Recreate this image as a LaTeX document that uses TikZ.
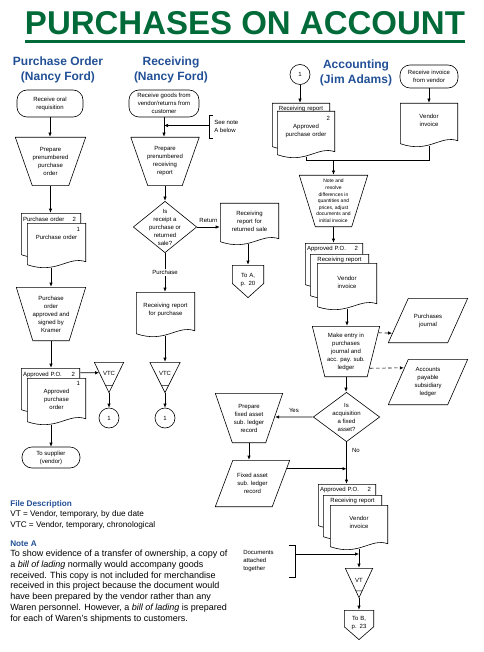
\documentclass[tikz,border=0pt]{standalone}
\usepackage{fontspec}
\setmainfont{Liberation Sans}
\usetikzlibrary{arrows.meta,calc}

\definecolor{titlegreen}{RGB}{0,106,56}
\definecolor{headblue}{RGB}{34,80,150}

\newcommand\nodefont{\fontsize{6}{8}\selectfont}
\newcommand\smallfont{\fontsize{5}{6.6}\selectfont}
\newcommand\ppb{path picture bounding box}
% corners of a node, set in a little for the clip
\newcommand\ppcorners{\path ([xshift=.3pt,yshift=-.3pt]\ppb.north west) coordinate (nw)
  ([xshift=-.3pt,yshift=-.3pt]\ppb.north east) coordinate (ne)
  ([xshift=.3pt,yshift=.3pt]\ppb.south west) coordinate (sw)
  ([xshift=-.3pt,yshift=.3pt]\ppb.south east) coordinate (se)
  ([yshift=.4pt]\ppb.south) coordinate (ap);}
\newcommand\gap[1]{\rule{#1pt}{0pt}}

\tikzset{
  >={Latex[length=4pt,width=3.4pt]},
  every node/.style={font=\nodefont},
  flow/.style={inner sep=0pt, align=center},
  term/.style 2 args={flow, draw, rounded corners=10pt, minimum width=#1pt, minimum height=#2pt},
  conn/.style={flow, draw, circle, minimum size=20pt},
  trap/.style n args={3}{flow, minimum width=#1pt, minimum height=#2pt,
    path picture={\ppcorners \draw (nw) -- (ne) -- ([xshift=-#3pt]se) -- ([xshift=#3pt]sw) -- cycle;}},
  dia/.style 2 args={flow, minimum width=#1pt, minimum height=#2pt,
    path picture={\draw ([yshift=-.4pt]\ppb.north) -- ([xshift=-.4pt]\ppb.east) -- ([yshift=.4pt]\ppb.south) -- ([xshift=.4pt]\ppb.west) -- cycle;}},
  para/.style n args={3}{flow, minimum width=#1pt, minimum height=#2pt,
    path picture={\ppcorners \draw ([xshift=#3pt]nw) -- (ne) -- ([xshift=-#3pt]se) -- (sw) -- cycle;}},
  doc/.style n args={3}{flow, text width=#1pt, text height=#2pt, text depth=#3pt,
    path picture={\ppcorners \filldraw[fill=white] (nw) -- (ne) -- ([yshift=6pt]se)
      .. controls ($(sw)!.7!(se)+(0pt,12pt)$) and ($(sw)!.5!(se)+(0pt,-7pt)$) .. ([yshift=3pt]sw) -- cycle;}},
  ftri/.style n args={3}{flow, text width=#1pt, text height=#2pt, text depth=#3pt,
    path picture={\ppcorners \draw (nw) -- (ne) -- (ap) -- cycle ($(nw)!.77!(ap)$) -- ($(ne)!.77!(ap)$);}},
  offp/.style n args={3}{flow, text width=#1pt, text height=#2pt, text depth=#3pt,
    path picture={\ppcorners \draw (nw) -- (ne) -- ($(ne)!.56!(se)$) -- (ap) -- ($(nw)!.56!(sw)$) -- cycle;}},
}
\tikzstyle{docout}=[->, shorten <=-1.3pt]
\tikzstyle{dasharrow}=[->, dash pattern=on 3.5pt off 2.5pt]
\tikzstyle{heading}=[font=\fontsize{12}{15}\selectfont\bfseries, text=headblue, align=center]
\tikzstyle{bodytext}=[anchor=north west, align=left, inner sep=0pt, font=\fontsize{8.2}{10.6}\selectfont]

\begin{document}
\begin{tikzpicture}[x=1pt, y=-1pt, line width=0.6pt]
  \useasboundingbox (0,0) rectangle (483,652);

  \node[anchor=base, text=titlegreen, font=\fontsize{33}{33}\selectfont\bfseries] (title) at (245,35) {PURCHASES ON ACCOUNT};
  \draw[titlegreen, line width=2.4pt] (25,41.5) -- (465,41.5);

  \node[heading] (hdPO) at (58,70) {Purchase Order\\(Nancy Ford)};
  \node[heading] (hdRec) at (171,70) {Receiving\\(Nancy Ford)};
  \node[heading] (hdAcc) at (356,73) {Accounting\\(Jim Adams)};

  % purchase order
  \node[term={66}{27}] (oral) at (50,103.5) {Receive oral\\requisition};
  \node[trap={71}{49}{17}] (prepPO) at (50.5,161.5) {Prepare\\prenumbered\\purchase\\order};
  \node[doc={60}{8}{37}] (po2) at (51,235.5) {\gap{2}Purchase order\hfill 2\gap{5}};
  \node[doc={59}{8}{37}] (po1) at (56.5,245.5) {\hfill 1\gap{6}\\Purchase order};
  \node[trap={70}{54}{16.5}] (kramer) at (51,314) {Purchase\\order\\approved and\\signed by\\Kramer};
  \node[doc={59}{8}{37}] (apo2) at (50.5,390.5) {\gap{2}Approved P.O.\hfill 2\gap{5}};
  \node[doc={59}{7}{40}] (apo1) at (56.5,401.5) {\hfill 1\gap{6}\\Approved\\purchase\\order};
  \node[ftri={30}{13}{18}] (vtc1) at (109,377.5) {VTC};
  \node[conn] (c1a) at (109,418) {1};
  \node[term={58}{21}] (supp) at (51,457.5) {To supplier\\(vendor)};

  \draw[->] (oral.south) -- (oral.south |- prepPO.north);
  \draw[->] (prepPO.south) -- (prepPO.south |- po2.north);
  \draw[->] (po1.south -| kramer.north) -- (kramer.north);
  \draw[->] (kramer.south) -- (kramer.south |- apo2.north);
  \draw[->] ($(apo2.north east)+(0,5)$) -- ($(vtc1.north west)!.35!(vtc1.south)$);
  \draw[->] (vtc1.south) -- (c1a.north);
  \draw[->] (apo1.south -| supp.north) -- (supp.north);

  % receiving
  \node[term={70}{27}] (goods) at (164,103.5) {Receive goods from\\vendor/returns from\\customer};
  \node[trap={69}{49}{17}] (prepRR) at (165,161.5) {Prepare\\prenumbered\\receiving\\report};
  \node[anchor=west, align=left, inner sep=0pt] (seeNote) at (214,126.5) {See note\\A below};
  \node[dia={64}{52}] (retq) at (165,227) {Is\\receipt a\\purchase or\\returned\\sale?};
  \node[doc={59}{12.5}{29.5}] (rrRet) at (249.5,224) {Receiving\\report for\\returned sale};
  \node[offp={32}{12}{21}] (toA) at (248,281.5) {To A,\\p. 20};
  \node[doc={59}{15.5}{29.5}] (rrPur) at (165.5,314.5) {Receiving report\\for purchase};
  \node[ftri={31}{13}{18}] (vtc2) at (165,377.5) {VTC};
  \node[conn] (c1b) at (165,418) {1};

  \draw[->] (goods.south) -- (goods.south |- prepRR.north);
  \draw (213,115) -- (209,115) -- (209,138) -- (213,138);
  \coordinate (brA) at (209,125.5);
  \draw[->] (brA) -- (brA -| goods.south);
  \draw[->] (prepRR.south) -- (prepRR.south |- retq.north);
  \draw[->] (retq.east) -- (retq.east -| rrRet.west) node[midway, above=1pt] {Return};
  \draw[docout] (rrRet.south -| toA.north) -- (toA.north);
  \draw[->] (retq.south) -- (retq.south |- rrPur.north) node[midway, fill=white, inner sep=1pt] {Purchase};
  \draw[docout] (rrPur.south -| vtc2.north) -- (vtc2.north);
  \draw[->] (vtc2.south) -- (c1b.north);

  % accounting
  \node[conn] (c1c) at (300,74.5) {1};
  \node[doc={58}{7.5}{39.5}] (rrA) at (301,126.5) {Receiving report};
  \node[doc={58}{9.5}{37.5}] (apoA) at (306,134.5) {\hfill 2\gap{5}\\[.5pt]Approved\\purchase order};
  \node[term={58}{23}] (rinv) at (429,76.5) {Receive invoice\\from vendor};
  \node[doc={58}{15.5}{28.5}] (vinv1) at (429,125) {Vendor\\invoice};
  \node[trap={69}{52}{16}, font=\smallfont] (noteRes) at (333.5,201) {Note and\\resolve\\differences in\\quantities and\\prices, adjust\\documents and\\initial invoice};
  \node[doc={58}{7}{38}] (apoB) at (334,265.5) {\gap{2}Approved P.O.\hfill 2\gap{5}};
  \node[doc={59}{7.5}{37.5}] (rrB) at (339.5,276.5) {Receiving report};
  \node[doc={60}{17}{30}] (vinvB) at (347,286.5) {Vendor\\invoice};
  \node[trap={68}{51}{12.5}] (mkEntry) at (346,351.5) {Make entry in\\purchases\\journal and\\acc. pay. sub.\\ledger};
  \node[para={80}{45}{20}] (pj) at (428,320.5) {Purchases\\journal};
  \node[para={80}{46}{20}] (apl) at (428,382) {Accounts\\payable\\subsidiary\\ledger};
  \node[dia={67}{50}] (fq) at (346.5,417) {Is\\acquisition\\a fixed\\asset?};
  \node[trap={68}{50}{17}] (fapre) at (249,418) {Prepare\\fixed asset\\sub. ledger\\record};
  \node[para={75}{47}{17.5}] (fal) at (252.5,483.5) {Fixed asset\\sub. ledger\\record};
  \node[doc={58}{7}{38}] (apoC) at (347,506.5) {\gap{2}Approved P.O.\hfill 2\gap{5}};
  \node[doc={59}{7.5}{37.5}] (rrC) at (352.5,517.5) {Receiving report};
  \node[doc={58}{15}{30}] (vinvC) at (359,527.5) {Vendor\\invoice};
  \node[anchor=west, align=left, inner sep=0pt] (docAtt) at (243,561) {Documents\\attached\\together};
  \node[ftri={28}{14}{16}] (vt) at (359,583) {VT};
  \node[offp={30}{10}{20}] (toB) at (359,625) {To B,\\p. 23};

  \draw[->] (c1c.south) -- (c1c.south |- rrA.north);
  \draw[->] (rinv.south) -- (rinv.south |- vinv1.north);
  \coordinate (jn) at (333.5,160);
  \draw[shorten <=-1.3pt, shorten >=-1.3pt] (apoA.south) -- (apoA.south |- jn) -- (jn -| vinv1.south) -- (vinv1.south);
  \draw[->] (jn) -- (noteRes.north);
  \draw[->] (noteRes.south) -- (noteRes.south |- apoB.north);
  \draw[docout] (vinvB.south) -- (vinvB.south |- mkEntry.north);
  \draw[dasharrow] ($(mkEntry.north east)!.137!(mkEntry.south east)+(-1.7,0)$) -- ($(pj.south west)!.222!(pj.north west)+(4.44,0)$);
  \draw[dasharrow] ($(mkEntry.north east)!.824!(mkEntry.south east)+(-10.3,0)$) -- ($(apl.south west)!.804!(apl.north west)+(16.1,0)$);
  \draw[->] (mkEntry.south) -- (mkEntry.south |- fq.north);
  \draw[->] (fq.west) -- ($(fapre.north east)!.48!(fapre.south east)+(-8.16,0)$) node[midway, above=1pt] {Yes};
  \draw[->] (fapre.south) -- (fapre.south |- fal.north);
  \draw[->] (fq.south) -- (fq.south |- apoC.north) node[pos=.2, right=2pt] {No};
  \coordinate (falR) at ($(fal.north east)!.19!(fal.south east)+(-3.35,0)$);
  \draw[->] (falR) -- (falR -| fq.south);
  \draw[docout] (vinvC.south) -- (vt.north);
  \draw[->] (vt.south) -- (toB.north);
  \draw (289,545) -- (295,545) -- (295,577) -- (289,577);
  \coordinate (brB) at (295,554);
  \draw[->] (brB) -- (brB -| vt.north);

  % notes
  \node[bodytext, font=\fontsize{8.2}{10.6}\selectfont\bfseries, text=headblue] (fileHd) at (10,500) {File Description};
  \node[bodytext] (fileTxt) at (10,510.5) {VT = Vendor, temporary, by due date\\VTC = Vendor, temporary, chronological};
  \node[bodytext, font=\fontsize{8.2}{10.6}\selectfont\bfseries, text=headblue] (noteHd) at (10,541) {Note A};
  \node[bodytext, font=\fontsize{9}{10.7}\selectfont] (noteTxt) at (10,550) {To show evidence of a transfer of ownership, a copy of\\a \emph{bill of lading} normally would accompany goods\\received. This copy is not included for merchandise\\received in this project because the document would\\have been prepared by the vendor rather than any\\Waren personnel. However, a \emph{bill of lading} is prepared\\for each of Waren's shipments to customers.};
\end{tikzpicture}
\end{document}
